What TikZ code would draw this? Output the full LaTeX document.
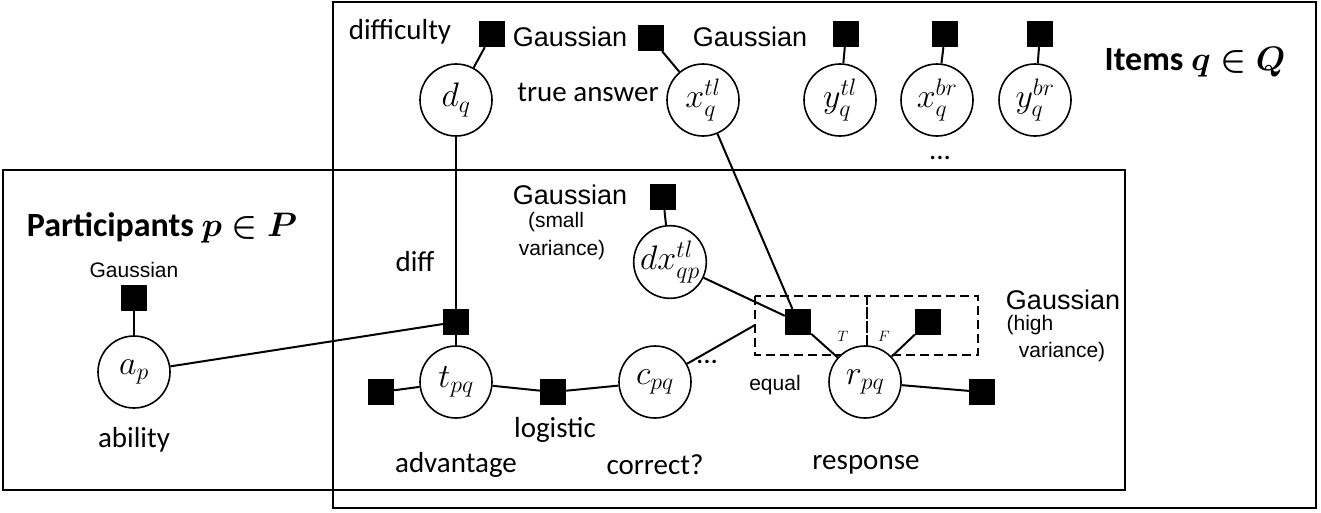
\documentclass[tikz,border=0pt]{standalone}
\usepackage{fix-cm}
\usepackage{amsmath,bm}
\usepackage{fontspec}
\setmainfont{Carlito}
\newfontfamily\arialf{Liberation Sans}
\begin{document}
\begin{tikzpicture}[x=1pt,y=-1pt,
  var/.style={circle,draw,line width=1.6pt,minimum size=72pt,inner sep=0pt,font=\fontsize{34}{38}\selectfont,fill=white},
  fac/.style={rectangle,fill=black,minimum size=26pt,inner sep=0pt},
  lab/.style={font=\fontsize{29}{32}\selectfont},
  gau/.style={font=\arialf\fontsize{27}{30}\selectfont},
  sgau/.style={font=\arialf\fontsize{21}{24}\selectfont},
  edge/.style={line width=2pt}]
\useasboundingbox (0,0) rectangle (1321,512);
\draw[line width=1.3pt] (333,2) rectangle (1316,508);
\draw[line width=1.3pt] (3,170) rectangle (1125,490);
\node[font=\fontsize{34}{38}\selectfont\bfseries] (itm) at (1195,62) {Items $\bm{q\in Q}$};
\node[font=\fontsize{34}{38}\selectfont\bfseries] (prt) at (162,228) {Participants $\bm{p\in P}$};
% dashed boxes
\draw[dash pattern=on 9pt off 5pt,line width=2pt] (755,296) rectangle (867,355);
\draw[dash pattern=on 9pt off 5pt,line width=2pt] (867,296) rectangle (978,355);
% items
\node[var] (d) at (456,100) {$d_q$};
\node[var] (x) at (703,100) {$x_q^{tl}$};
\node[var] (y) at (840,100) {$y_q^{tl}$};
\node[var] (xb) at (937,100) {$x_q^{br}$};
\node[var] (yb) at (1035,100) {$y_q^{br}$};
\node[fac] (fd) at (492,34) {};
\node[fac] (fx) at (651,38) {};
\node[fac] (fy) at (846,34) {};
\node[fac] (fxb) at (945,34) {};
\node[fac] (fyb) at (1040,34) {};
\foreach \a/\b in {fd/d,fx/x,fy/y,fxb/xb,fyb/yb} \draw[edge] (\a) -- (\b);
\node[lab] (ldiff) at (400,32) {difficulty};
\node[gau] (g1) at (570,37) {Gaussian};
\node[gau] (g2) at (750,37) {Gaussian};
\node[lab] (ltrue) at (588,92) {true answer};
\node[lab] (dots1) at (940,158) {...};
% dx
\node[var] (dx) at (670,262) {$dx_{qp}^{tl}$};
\node[fac] (fdx) at (663,197) {};
\draw[edge] (fdx) -- (dx);
\node[gau] (g3) at (570,195) {Gaussian};
\node[sgau] (g3a) at (556,222) {(small};
\node[sgau] (g3b) at (562,250) {variance)};
% participants
\node[var] (a) at (134,372) {$a_p$};
\node[fac] (fa) at (134,298) {};
\draw[edge] (fa) -- (a);
\node[sgau] (g4) at (134,270) {Gaussian};
\node[lab] (labl) at (134,440) {ability};
\node[fac] (fdiff) at (456,322) {};
\node[lab] (ldf) at (415,262) {diff};
\node[var] (t) at (456,382) {$t_{pq}$};
\node[fac] (ft) at (381,392) {};
\node[fac] (flog) at (553,392) {};
\node[var] (c) at (655,382) {$c_{pq}$};
\node[lab] (dots2) at (707,362) {...};
\node[var] (r) at (865,382) {$r_{pq}$};
\node[fac] (fr) at (982,392) {};
\node[fac] (fT) at (798,322) {};
\node[fac] (fF) at (928,322) {};
\node[font=\itshape\fontsize{15}{17}\selectfont] (lT) at (843,336) {$T$};
\node[font=\itshape\fontsize{15}{17}\selectfont] (lF) at (884,336) {$F$};
\coordinate (cin) at (755,325);
\node[gau] (g5) at (1063,300) {Gaussian};
\node[sgau] (g5a) at (1030,325) {(high};
\node[sgau] (g5b) at (1062,352) {variance)};
\node[lab] (ladv) at (456,465) {advantage};
\node[lab] (llog) at (555,430) {logistic};
\node[lab] (lcor) at (655,465) {correct?};
\node[sgau] (leq) at (775,385) {equal};
\node[lab] (lres) at (866,465) {response};
% edges
\draw[edge] (d) -- (fdiff);
\draw[edge] (fdiff) -- (t);
\draw[edge] (fdiff) -- (a);
\draw[edge] (ft) -- (t);
\draw[edge] (t) -- (flog) -- (c);
\draw[edge] (c) -- (cin);
\draw[edge] (x) -- (fT);
\draw[edge] (dx) -- (fT);
\draw[edge] (fT) -- (r);
\draw[edge] (fF) -- (r);
\draw[edge] (r) -- (fr);
\end{tikzpicture}
\end{document}
